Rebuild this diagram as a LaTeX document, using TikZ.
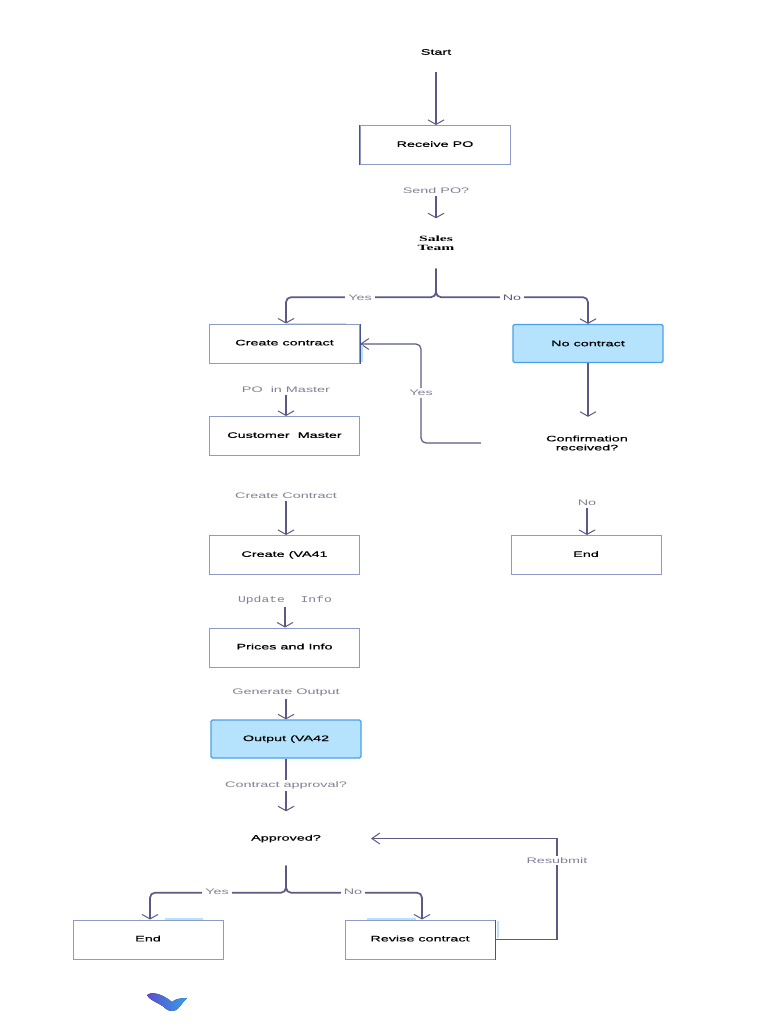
\documentclass[tikz,border=0pt]{standalone}
\usepackage{fontspec}
\setmainfont[FakeStretch=1.8]{Liberation Sans}
\newfontfamily\boxfont[FakeStretch=1.8,FakeBold=0.5]{Liberation Sans}
\newfontfamily\serifboxfont[FakeStretch=1.95]{Liberation Serif Bold}
\newfontfamily\monolabelfont[FakeStretch=1.45]{Liberation Mono}
\usetikzlibrary{arrows.meta,positioning,calc}
\definecolor{boxedge}{RGB}{142,154,200}
\definecolor{boxdark}{RGB}{66,84,150}
\definecolor{flowline}{RGB}{92,90,132}
\definecolor{labelgrey}{RGB}{128,128,150}
\definecolor{notefill}{RGB}{181,227,253}
\definecolor{noteedge}{RGB}{74,160,232}
\definecolor{logoviolet}{RGB}{92,78,208}
\definecolor{logoblue}{RGB}{52,160,232}
\tikzset{
    stepbox/.style={draw=boxedge,fill=white,line width=1pt,minimum width=150pt,minimum height=39pt,inner sep=0pt,text height=5.8pt,text depth=2pt,font=\boxfont\fontsize{8}{9}\selectfont},
    notebox/.style={draw=noteedge,fill=notefill,line width=1.2pt,rounded corners=1.5pt,minimum width=150pt,minimum height=38pt,inner sep=0pt,font=\boxfont\fontsize{8}{9}\selectfont},
    plaintext/.style={inner sep=0pt,align=center,font=\boxfont\fontsize{8}{9}\selectfont},
    edgelabel/.style={fill=white,inner xsep=3pt,inner ysep=2pt,text=labelgrey,font=\fontsize{8}{9}\selectfont},
    flow/.style={draw=flowline,line width=1.7pt,rounded corners=5pt,-{Straight Barb[length=4.5pt,width=16pt,line width=1pt]}},
    backflow/.style={flow,line width=1.2pt,-{Straight Barb[length=8pt,width=11pt,line width=1pt]}},
}
\begin{document}
\begin{tikzpicture}[x=1pt,y=-1pt]
\useasboundingbox (0,0) rectangle (768,1024);

% Main branch
\node[plaintext,minimum height=40pt] (start) at (436,52) {Start};
\node[stepbox] (receive) at (435,145) {Receive PO};
\node[plaintext,minimum height=50pt,font=\serifboxfont\fontsize{8}{8.5}\selectfont] (sales) at (436,243.5) {Sales\\Team};

% Left column
\node[stepbox] (createc) at (284.5,343.5) {Create contract};
\node[stepbox] (customer) at (284.5,436) {Customer\ \ Master};
\node[stepbox] (create41) at (284.5,555) {Create (VA41};
\node[stepbox] (prices) at (284.5,647.5) {Prices and Info};
\node[notebox] (output) at (286,739) {Output (VA42};
\node[plaintext,minimum height=54pt] (approved) at (286,838.5) {Approved?};
\node[stepbox] (endleft) at (148,939.5) {End};
\node[stepbox] (revise) at (420,939.5) {Revise contract};

% Right column
\node[notebox] (nocontract) at (588,343.5) {No contract};
\node[plaintext,minimum height=52pt,minimum width=212pt] (confirm) at (587,443) {Confirmation\\received?};
\node[stepbox] (endright) at (586,555) {End};

% Labels that start the arrows below them
\node[edgelabel] (lsend) at (436,191) {Send PO?};
\node[edgelabel] (lmaster) at (286,390) {PO\ \ in Master};
\node[edgelabel] (lcontract) at (286,495.5) {Create Contract};
\node[edgelabel,font=\monolabelfont\fontsize{9}{10}\selectfont] (lupdate) at (285,600.5) {Update\ \ Info};
\node[edgelabel] (lgenerate) at (286,693) {Generate Output};
\node[edgelabel] (lno) at (587,503) {No};

% Plain arrows
\draw[flow] (start.south) -- (start.south |- receive.north);
\draw[flow] (lsend) -- (sales);
\draw[flow] (lmaster.south) -- (lmaster.south |- customer.north);
\draw[flow] (lcontract.south) -- (lcontract.south |- create41.north);
\draw[flow] (lupdate.south) -- (lupdate.south |- prices.north);
\draw[flow] (lgenerate.south) -- (output.north);
\draw[flow] (lno.south) -- (lno.south |- endright.north);
\draw[flow] (output.south) -- (approved.north);
\draw[flow] (nocontract.south) -- (nocontract.south |- confirm.north);

% Branches
\draw[flow] (sales.south) -- ++(0,28.5) -| (createc.north -| 286,0);
\draw[flow] (sales.south) -- ++(0,28.5) -| (nocontract.north);
\draw[flow] (approved.south) -- ++(0,27) -| (endleft.north -| 150,0);
\draw[flow] (approved.south) -- ++(0,27) -| (revise.north -| 422,0);

% Loops back
\draw[backflow] (confirm.west) -| (421,344) -- (createc.east |- 0,344);
\coordinate (approvedin) at (371,838.5);
\draw[backflow,rounded corners=0pt] (revise.east) -- (557,939.5) |- (approvedin);

% Labels on the lines
\node[edgelabel] (lyes1) at (360,297.5) {Yes};
\node[edgelabel,text=flowline] (lno1) at (512,297.5) {No};
\node[edgelabel] (lyes2) at (421,393) {Yes};
\node[edgelabel] (lapproval) at (286,785.5) {Contract approval?};
\node[edgelabel] (lyes3) at (217,892) {Yes};
\node[edgelabel] (lno3) at (353,892) {No};
\node[edgelabel] (lresubmit) at (557,860.5) {Resubmit};

% Darker box sides and pale slivers
\draw[boxdark,line width=1pt] (receive.north west) -- (receive.south west);
\draw[boxdark,line width=1pt] (createc.north east) -- (createc.south east);
\draw[boxdark,line width=1pt] (revise.north east) -- (revise.south east);
\fill[notefill] (285,323) rectangle (346,324);
\fill[notefill] (361,345) rectangle (363,362);
\fill[notefill] (165,918) rectangle (203,920);
\fill[notefill] (367,918) rectangle (416,920);
\fill[notefill] (497,921) rectangle (499,938);

% Logo
\fill[left color=logoviolet,middle color=logoviolet,right color=logoblue] (147,995) .. controls (150,992) and (160,992) .. (172,1002)
    .. controls (175,999) and (181,998) .. (187,998) .. controls (182,1002) and (180,1008) .. (176,1010)
    .. controls (172,1012) and (168,1011) .. (165,1008) .. controls (160,1003) and (150,1001) .. (147,995) -- cycle;
\end{tikzpicture}
\end{document}
